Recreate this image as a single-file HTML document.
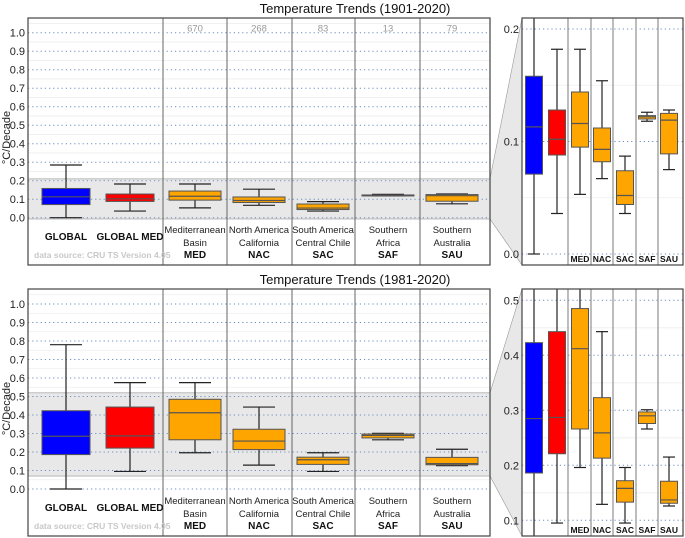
<!DOCTYPE html>
<html><head><meta charset="utf-8"><style>
html,body{margin:0;background:#fff;overflow:hidden;width:685px;height:538px}
svg{display:block;font-family:"Liberation Sans",sans-serif}
</style></head><body>
<svg id="c" width="685" height="538" viewBox="0 0 685 538"></svg>
<script>
const categories = ["GLOBAL","GLOBAL MED","MED","NAC","SAC","SAF","SAU"];
const regionNames = [["",""],["",""],["Mediterranean","Basin"],["North America","California"],["South America","Central Chile"],["Southern","Africa"],["Southern","Australia"]];
const counts = ["","","670","268","83","13","79"];
const colors = ["#0000ff","#ff0000","#ffa500","#ffa500","#ffa500","#ffa500","#ffa500"];
// 1901-2020: [low, q1, median, q3, high]
const lowTop = [0.0,0.036,0.053,0.067,0.036,0.118,0.075];
const q1Top = [0.071,0.088,0.095,0.082,0.044,0.120,0.089];
const medTop = [0.113,0.102,0.116,0.093,0.052,0.122,0.119];
const q3Top = [0.158,0.128,0.144,0.112,0.074,0.123,0.125];
const highTop = [0.285,0.182,0.182,0.154,0.087,0.126,0.128];
// 1981-2020
const lowBot = [0.0,0.095,0.196,0.129,0.095,0.266,0.126];
const q1Bot = [0.186,0.221,0.266,0.213,0.133,0.276,0.131];
const medBot = [0.285,0.287,0.412,0.259,0.158,0.290,0.137];
const q3Bot = [0.423,0.443,0.485,0.323,0.172,0.297,0.171];
const highBot = [0.78,0.575,0.575,0.443,0.196,0.301,0.215];
const mainTicks = [0,0.1,0.2,0.3,0.4,0.5,0.6,0.7,0.8,0.9,1.0];
const insetTicksTop = [0.0,0.1,0.2];
const insetTicksBot = [0.1,0.2,0.3,0.4,0.5];

const NS="http://www.w3.org/2000/svg";
const svg=document.getElementById('c');
function mk(tag,attrs,parent){const e=document.createElementNS(NS,tag);for(const k in attrs)e.setAttribute(k,attrs[k]);(parent||svg).appendChild(e);return e;}
function txt(s,attrs,parent){const e=mk('text',attrs,parent);e.textContent=s;return e;}

const mainX=[66,130,195,259,323,388,452];
const insetX=[534,557,580,602,625,647,669];
const dividers=[163,227,292,355,420];
const insetDiv=[568,591,613,636,658];

function panel(p){
  const g=mk('g',{});
  
  
  const ym=v=>p.y0-v*185;
  const yi=v=>p.iy0-v*p.is;
  txt(p.title,{x:355,y:p.top-5,'font-size':13,'text-anchor':'middle',fill:'#111'},g);
  mk('rect',{x:28,y:p.top,width:462,height:p.bot-p.top,fill:'#fff'},g);
  for(let v=0.05;v<1.06;v+=0.1) mk('line',{x1:28,x2:490,y1:ym(v),y2:ym(v),stroke:'#eeeeee','stroke-width':0.8},g);
  const band=mk('rect',{x:28,y:ym(p.band[1]),width:462,height:ym(p.band[0])-ym(p.band[1]),fill:'#e8e8e8',stroke:'#aaa','stroke-width':0.8},g);
  
  
  mk('polygon',{points:`490,${ym(p.band[1])} 522,${p.top} 522,${p.bot} 490,${ym(p.band[0])}`,fill:'#e8e8e8',stroke:'#999','stroke-width':0.6},g);
  mainTicks.forEach(v=>{
    mk('line',{x1:28,x2:490,y1:ym(v),y2:ym(v),stroke:'#6a8fc0','stroke-width':1,'stroke-dasharray':'1.2,3'},g);
    const t=txt(v.toFixed(1),{x:25,y:ym(v)+4,'font-size':11,'text-anchor':'end',fill:'#222'},g);
    
  });
  const yl=txt('°C/Decade',{x:0,y:0,'font-size':11,'text-anchor':'middle',fill:'#222',transform:`translate(10,${(p.top+p.bot)/2-4}) rotate(-90)`},g);
  
  dividers.forEach(x=>mk('line',{x1:x,x2:x,y1:p.top,y2:p.bot,stroke:'#666','stroke-width':1},g));
  for(let i=0;i<categories.length;i++){
    const x=mainX[i], w=i<2?48:52;
    const bg=mk('g',{},g);
    
    
    mk('line',{x1:x,x2:x,y1:ym(p.lo[i]),y2:ym(p.hi[i]),stroke:'#222','stroke-width':1.2},bg);
    mk('line',{x1:x-16,x2:x+16,y1:ym(p.lo[i]),y2:ym(p.lo[i]),stroke:'#222','stroke-width':1.2},bg);
    mk('line',{x1:x-16,x2:x+16,y1:ym(p.hi[i]),y2:ym(p.hi[i]),stroke:'#222','stroke-width':1.2},bg);
    mk('rect',{x:x-w/2,y:ym(p.q3[i]),width:w,height:Math.max(1,ym(p.q1[i])-ym(p.q3[i])),fill:colors[i],stroke:'#555','stroke-width':1},bg);
    mk('line',{x1:x-w/2,x2:x+w/2,y1:ym(p.med[i]),y2:ym(p.med[i]),stroke:'#555','stroke-width':1.2},bg);
    if(p.showCounts && counts[i]) txt(counts[i],{x:x,y:ym(1.0)-1,'font-size':9.5,'text-anchor':'middle',fill:'#999'},g);
    const ly=p.labY;
    if(i<2){
      const t=txt(categories[i],{x:x,y:ly+7,'font-size':10,'font-weight':'bold','text-anchor':'middle',fill:'#111'},g);
      
    } else {
      txt(regionNames[i][0],{x:x,y:ly,'font-size':9.5,'text-anchor':'middle',fill:'#222'},g);
      txt(regionNames[i][1],{x:x,y:ly+13,'font-size':9.5,'text-anchor':'middle',fill:'#222'},g);
      const t=txt(categories[i],{x:x,y:ly+25,'font-size':10,'font-weight':'bold','text-anchor':'middle',fill:'#111'},g);
      
    }
  }
  txt('data source: CRU TS Version 4.05',{x:34,y:p.labY+25,'font-size':8.5,'font-weight':'bold',fill:'#c8c8c8'},g);
  mk('rect',{x:28,y:p.top,width:462,height:p.bot-p.top,fill:'none',stroke:'#444','stroke-width':1.2},g);
  const ig=mk('g',{},g);
  
  
  mk('rect',{x:522,y:p.top,width:161,height:p.bot-p.top,fill:'#fff'},ig);
  const cid='clip'+p.top;
  const cp=mk('clipPath',{id:cid},ig);mk('rect',{x:522,y:p.top,width:161,height:p.bot-p.top},cp);
  const inner=mk('g',{'clip-path':`url(#${cid})`},ig);
  p.iticks.forEach((v,k)=>{
    if(k<p.iticks.length-1){const m=yi((v+p.iticks[k+1])/2);mk('line',{x1:522,x2:683,y1:m,y2:m,stroke:'#eee','stroke-width':0.8},inner);}
    mk('line',{x1:522,x2:683,y1:yi(v),y2:yi(v),stroke:'#6a8fc0','stroke-width':1,'stroke-dasharray':'1.2,3'},inner);
    txt(v.toFixed(1),{x:519,y:yi(v)+4,'font-size':11,'text-anchor':'end',fill:'#222'},ig);
  });
  insetDiv.forEach(x=>mk('line',{x1:x,x2:x,y1:p.top,y2:p.bot,stroke:'#999','stroke-width':1.3},inner));
  for(let i=0;i<categories.length;i++){
    const x=insetX[i],w=17;
    const bg=mk('g',{},inner);
    
    
    mk('line',{x1:x,x2:x,y1:yi(p.lo[i]),y2:yi(p.hi[i]),stroke:'#222','stroke-width':1.2},bg);
    mk('line',{x1:x-6,x2:x+6,y1:yi(p.lo[i]),y2:yi(p.lo[i]),stroke:'#222','stroke-width':1.2},bg);
    mk('line',{x1:x-6,x2:x+6,y1:yi(p.hi[i]),y2:yi(p.hi[i]),stroke:'#222','stroke-width':1.2},bg);
    mk('rect',{x:x-w/2,y:yi(p.q3[i]),width:w,height:Math.max(1,yi(p.q1[i])-yi(p.q3[i])),fill:colors[i],stroke:'#555','stroke-width':1},bg);
    mk('line',{x1:x-w/2,x2:x+w/2,y1:yi(p.med[i]),y2:yi(p.med[i]),stroke:'#555','stroke-width':1.2},bg);
    if(i>=2) txt(categories[i],{x:x,y:p.bot-3,'font-size':8.5,'font-weight':'bold','text-anchor':'middle',fill:'#111'},ig);
  }
  mk('rect',{x:522,y:p.top,width:161,height:p.bot-p.top,fill:'none',stroke:'#444','stroke-width':1.2},ig);
}
panel({name:'panel-1901-2020',title:'Temperature Trends (1901-2020)',top:18,bot:265,y0:217.7,band:[-0.007,0.21],
  lo:lowTop,q1:q1Top,med:medTop,q3:q3Top,hi:highTop,iy0:254,is:1125,iticks:insetTicksTop,labY:233,showCounts:true});
panel({name:'panel-1981-2020',title:'Temperature Trends (1981-2020)',top:289,bot:536,y0:489,band:[0.07,0.52],
  lo:lowBot,q1:q1Bot,med:medBot,q3:q3Bot,hi:highBot,iy0:575.3,is:550,iticks:insetTicksBot,labY:504,showCounts:false});
</script>
</body></html>
